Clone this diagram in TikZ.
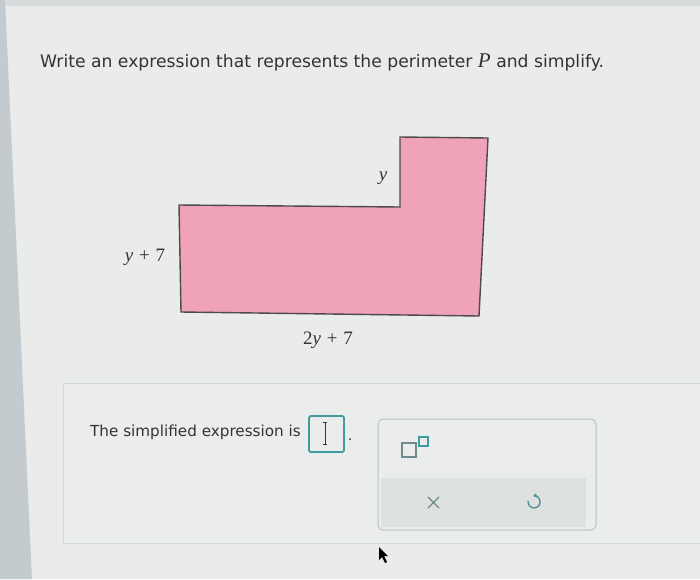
\documentclass[tikz,border=0pt]{standalone}
\usepackage{fontspec}
\setmainfont{DejaVu Sans}
\newfontfamily\timesf{Liberation Serif}
\usetikzlibrary{arrows.meta}
\definecolor{bg}{HTML}{E9ECEA}
\definecolor{bezel}{HTML}{C3CBCE}
\definecolor{topbar}{HTML}{D6DCDC}
\definecolor{panelline}{HTML}{D3D8D6}
\definecolor{panelfill}{HTML}{EAEDEB}
\definecolor{pinkfill}{HTML}{F0A2B8}
\definecolor{outline}{HTML}{4E4A4C}
\definecolor{txt}{HTML}{333333}
\definecolor{teal}{HTML}{3E9C9E}
\definecolor{iconc}{HTML}{6E8A8C}
\definecolor{band}{HTML}{DDE1E0}
\definecolor{toolline}{HTML}{B9C1C0}
\newcommand{\pl}{\hspace{0.3em}+\hspace{0.3em}}
\tikzset{
  lbl/.style={inner sep=0pt, text=txt, font=\timesf\fontsize{19}{21}\selectfont},
  sanstext/.style={inner sep=0pt, text=txt, anchor=west},
}
\begin{document}
\begin{tikzpicture}[x=1pt,y=-1pt]
\useasboundingbox (0,0) rectangle (700,579);
\fill[bg] (0,0) rectangle (700,579);
\fill[topbar] (0,0) rectangle (700,6);
\fill[bezel] (0,0) -- (5,0) -- (32,579) -- (0,579) -- cycle;
% title
\node[sanstext, font=\fontsize{17.2}{19}\selectfont] (title) at (40,62)
  {Write an expression that represents the perimeter {\timesf\itshape\fontsize{21}{22}\selectfont P} and simplify.};
% figure
\draw[fill=pinkfill, draw=outline, line width=1.4pt, line join=miter]
  (179,205) coordinate (a) -- (400,207) coordinate (b) -- (400,137) coordinate (c)
  -- (488,138) coordinate (d) -- (479,316) coordinate (e) -- (181,312) coordinate (f) -- cycle;
\node[lbl] (ly) at (383,178) {\itshape y};
\node[lbl] (lyp) at (145,257) {{\itshape y}\pl 7};
\node[lbl] (lb) at (328,340) {2{\itshape y}\pl 7};
% answer panel
\draw[panelline, fill=panelfill, line width=0.8pt] (705,383) -- (63,383) -- (63,543) -- (705,543);
\node[sanstext, font=\fontsize{15.2}{17}\selectfont] (ans) at (90,432) {The simplified expression is};
\draw[teal, line width=1.8pt, rounded corners=2pt] (309,416) rectangle (344,452);
\draw[txt, line width=0.6pt] (325,422) -- (325,444);
\draw[txt, line width=0.5pt] (323,422) -- (327,422) (323,444) -- (327,444);
\fill[txt] (350,439) circle (1pt);
% tool box
\draw[toolline, line width=1pt, rounded corners=5pt, fill=panelfill] (378,419) rectangle (596,530);
\fill[band] (381,478) rectangle (586,527);
\draw[iconc, line width=1.2pt] (402,443) rectangle (416,457);
\draw[teal, line width=2pt] (419,437) rectangle (428,446);
\draw[iconc, line width=1.1pt] (428,497) -- (439,508) (428,508) -- (439,497);
\draw[teal!70!gray, line width=1.4pt, {Stealth[length=4pt,width=5pt]}-] (533,496) arc[start angle=100, end angle=-190, radius=6pt];
% pointer
\fill[black] (379,547) -- (379,560) -- (382,557) -- (385,563) -- (387,562) -- (384,556) -- (388,556) -- cycle;
\end{tikzpicture}
\end{document}
